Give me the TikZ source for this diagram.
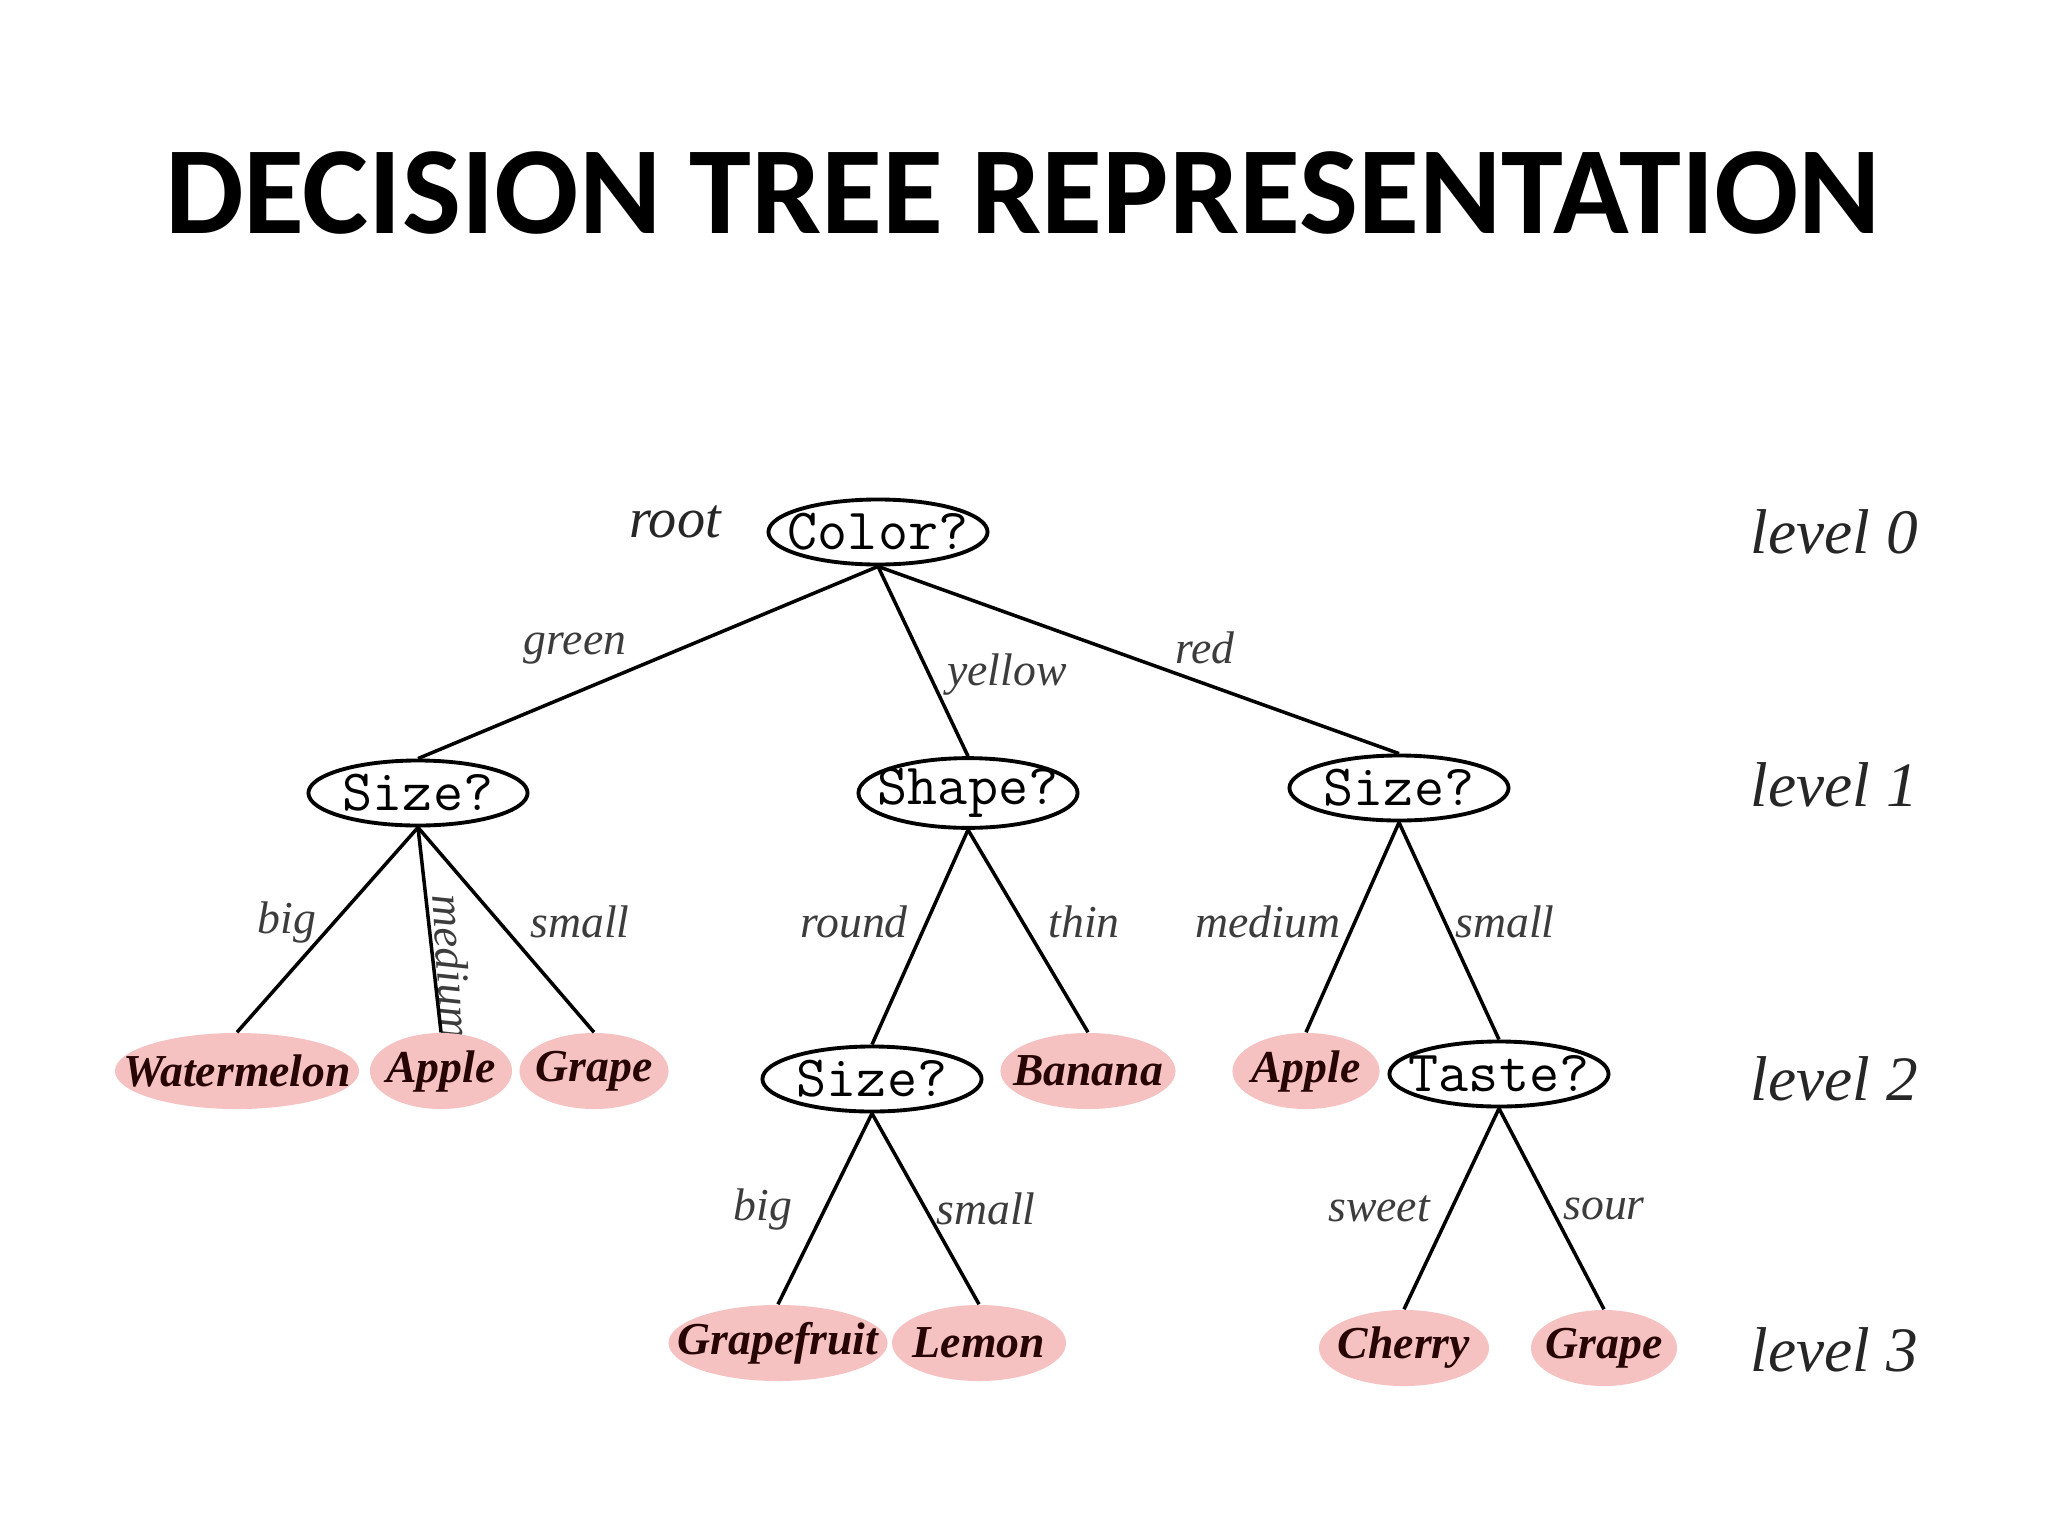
\documentclass[tikz,border=0pt]{standalone}
\usepackage{fontspec}
\setmainfont{Liberation Serif}
\newfontfamily\titlefont{Carlito}
\usetikzlibrary{shapes.geometric}
\definecolor{leafpink}{RGB}{245,193,193}
\definecolor{leaftext}{RGB}{40,5,5}
\definecolor{edgetext}{RGB}{60,60,60}
\begin{document}
\begin{tikzpicture}[x=0.01cm, y=-0.01cm,
    question/.style={ellipse, draw, line width=1.1pt, inner xsep=-2em, inner ysep=0pt,
        minimum width=2.19cm, minimum height=0.65cm, font=\ttfamily\fontsize{16.6}{18}\selectfont},
    leaf/.style={ellipse, fill=leafpink, inner xsep=-1.5em, inner ysep=0pt, minimum height=0.76cm,
        text=leaftext, font=\bfseries\itshape\fontsize{13}{15}\selectfont},
    lbl/.style={text=edgetext, inner sep=0pt, font=\itshape\fontsize{13}{15}\selectfont},
    lvl/.style={anchor=west, inner sep=0pt, text=black!85, font=\itshape\fontsize{18}{20}\selectfont},
    branch/.style={line width=1pt}]
            \useasboundingbox (0,0) rectangle (2048,1536);

            \node[font=\titlefont\bfseries\fontsize{35.5}{40}\selectfont] (title) at (1023,193) {DECISION TREE REPRESENTATION};

            % labels first, so the leaves cover them
            \node[lbl, font=\itshape\fontsize{16}{18}\selectfont, text=black!85] (root) at (675,522) {root};
            \node[lvl] (lvl0) at (1750,532) {level 0};
            \node[lvl] (lvl1) at (1750,785) {level 1};
            \node[lvl] (lvl2) at (1750,1079) {level 2};
            \node[lvl] (lvl3) at (1750,1350) {level 3};

            \node[lbl] (lgreen) at (575,649) {green};
            \node[lbl] (lyellow) at (1007,675) {yellow};
            \node[lbl] (lred) at (1205,648) {red};

            \node[lbl] (lbigA) at (287,922) {big};
            \node[lbl, rotate=-86, anchor=south] (lmediumA) at (436,968) {medium};
            \node[lbl] (lsmallA) at (580,922) {small};
            \node[lbl] (lround) at (854,922) {round};
            \node[lbl] (lthin) at (1084,922) {thin};
            \node[lbl] (lmediumB) at (1268,922) {medium};
            \node[lbl] (lsmallB) at (1505,922) {small};

            \node[lbl] (lbigC) at (763,1209) {big};
            \node[lbl] (lsmallC) at (986,1209) {small};
            \node[lbl] (lsweet) at (1379,1209) {sweet};
            \node[lbl] (lsour) at (1604,1209) {sour};

            % tests
            \node[question] (color) at (878,532) {Color?};
            \node[question] (sizeA) at (418,793) {Size?};
            \node[question] (shape) at (968,793) {Shape?};
            \node[question] (sizeB) at (1399,788) {Size?};
            \node[question] (sizeC) at (872,1079) {Size?};
            \node[question] (taste) at (1499,1074) {Taste?};

            % leaves
            \node[leaf, minimum width=2.44cm] (watermelon) at (237,1071) {Watermelon};
            \node[leaf, minimum width=1.42cm] (appleA) at (441,1071) {Apple};
            \node[leaf, minimum width=1.49cm] (grapeA) at (594,1071) {Grape};
            \node[leaf, minimum width=1.75cm] (banana) at (1088,1071) {Banana};
            \node[leaf, minimum width=1.47cm] (appleB) at (1306,1071) {Apple};
            \node[leaf, minimum width=2.19cm] (grapefruit) at (778,1343) {Grapefruit};
            \node[leaf, minimum width=1.74cm] (lemon) at (979,1343) {Lemon};
            \node[leaf, minimum width=1.70cm] (cherry) at (1404,1348) {Cherry};
            \node[leaf, minimum width=1.46cm] (grapeB) at (1604,1348) {Grape};

            \draw[branch] (color.south) -- (sizeA.north);
            \draw[branch] (color.south) -- (shape.north);
            \draw[branch] (color.south) -- (sizeB.north);

            \draw[branch] (sizeA.south) -- (watermelon.north);
            \draw[branch] (sizeA.south) -- (appleA.north);
            \draw[branch] (sizeA.south) -- (grapeA.north);

            \draw[branch] (shape.south) -- (sizeC.north);
            \draw[branch] (shape.south) -- (banana.north);

            \draw[branch] (sizeB.south) -- (appleB.north);
            \draw[branch] (sizeB.south) -- (taste.north);

            \draw[branch] (sizeC.south) -- (grapefruit.north);
            \draw[branch] (sizeC.south) -- (lemon.north);

            \draw[branch] (taste.south) -- (cherry.north);
            \draw[branch] (taste.south) -- (grapeB.north);


        \end{tikzpicture}
\end{document}
